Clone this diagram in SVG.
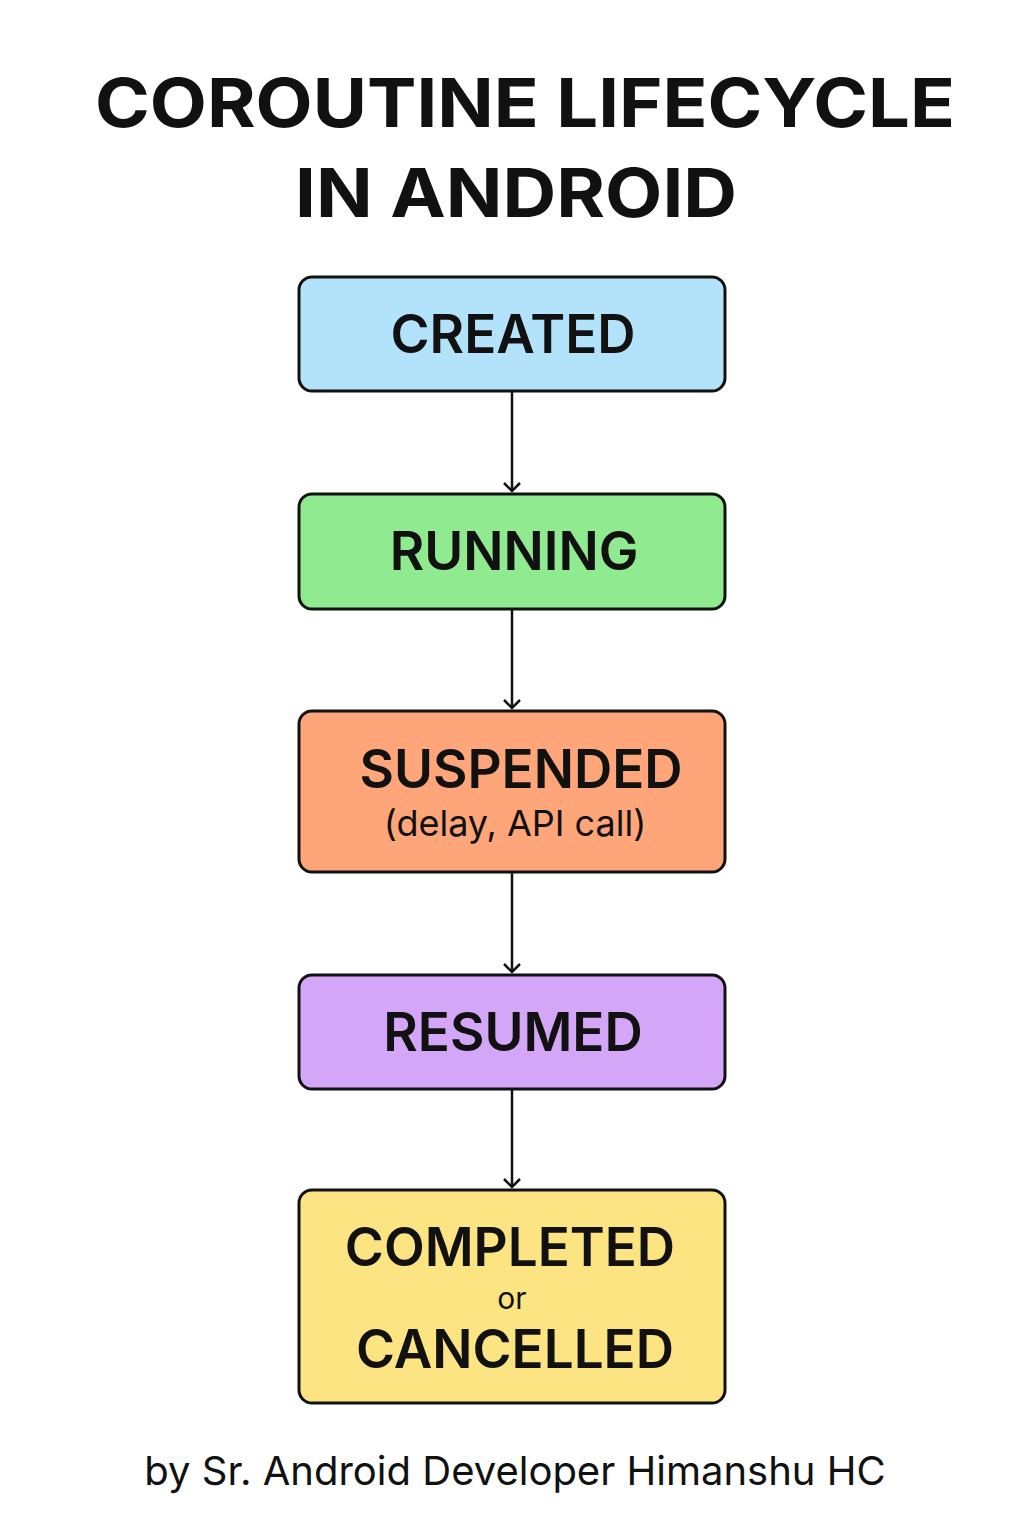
<svg xmlns="http://www.w3.org/2000/svg" width="1024" height="1536" viewBox="0 0 1024 1536">
<style>
.box{stroke:#111;stroke-width:3}
.t{font-family:Inter,"Liberation Sans",sans-serif;font-weight:700;fill:#111;text-anchor:middle}
.n{font-family:Inter,"Liberation Sans",sans-serif;font-weight:600;fill:#111;text-anchor:middle;font-size:53px}
.s{font-family:Inter,"Liberation Sans",sans-serif;fill:#111;text-anchor:middle}
.c{stroke:#111;stroke-width:2.5;fill:none}
</style>
<defs><marker id="a" markerWidth="20" markerHeight="20" refX="10" refY="10" orient="auto" markerUnits="userSpaceOnUse"><path d="M2,2 L10,10 L2,18" fill="none" stroke="#111" stroke-width="2.5"/></marker></defs>
<rect width="1024" height="1536" fill="#fff"/>
<text class="t" x="525" y="127" font-size="68" textLength="860" lengthAdjust="spacingAndGlyphs">COROUTINE LIFECYCLE</text>
<text class="t" x="516" y="217" font-size="68" textLength="442" lengthAdjust="spacingAndGlyphs">IN ANDROID</text>
<g id="connectors">
<line class="c" x1="512" y1="392" x2="512" y2="491" marker-end="url(#a)"/>
<line class="c" x1="512" y1="610" x2="512" y2="708" marker-end="url(#a)"/>
<line class="c" x1="512" y1="873" x2="512" y2="972" marker-end="url(#a)"/>
<line class="c" x1="512" y1="1090" x2="512" y2="1187" marker-end="url(#a)"/>
</g>
<g id="created"><rect class="box" x="299" y="277" width="426" height="114" rx="13" fill="#b3e3fb"/><text class="n" x="513" y="353">CREATED</text></g>
<g id="running"><rect class="box" x="299" y="494" width="426" height="115" rx="13" fill="#90ea8f"/><text class="n" x="514" y="570">RUNNING</text></g>
<g id="suspended"><rect class="box" x="299" y="711" width="426" height="161" rx="13" fill="#fea67a"/><text class="n" x="521" y="788">SUSPENDED</text><text class="s" x="515" y="836" font-size="36">(delay, API call)</text></g>
<g id="resumed"><rect class="box" x="299" y="975" width="426" height="114" rx="13" fill="#d3a6f7"/><text class="n" x="513" y="1051">RESUMED</text></g>
<g id="completed"><rect class="box" x="299" y="1190" width="426" height="213" rx="13" fill="#fde482"/><text class="n" x="510" y="1266">COMPLETED</text><text class="s" x="512" y="1309" font-size="30">or</text><text class="n" x="515" y="1368">CANCELLED</text></g>
<text class="s" x="515" y="1485" font-size="40">by Sr. Android Developer Himanshu HC</text>
</svg>
